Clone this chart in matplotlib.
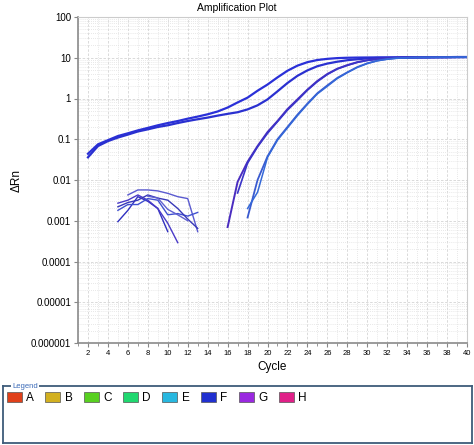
import matplotlib
matplotlib.use("Agg")
import matplotlib.pyplot as plt
from matplotlib.patches import Patch
from matplotlib.ticker import LogLocator, FixedLocator, MultipleLocator

plt.rcParams['font.family'] = ['Liberation Sans', 'DejaVu Sans']

# 扩增曲线数据
cyc_full = list(range(2, 41))
rn_f1 = [0.044, 0.075, 0.095, 0.12, 0.14, 0.165, 0.19, 0.22, 0.25, 0.28, 0.32, 0.36,
         0.41, 0.48, 0.6, 0.8, 1.05, 1.55, 2.2, 3.3, 4.8, 6.4, 7.8, 8.8, 9.4, 9.8, 10.0,
         10.1, 10.15, 10.2, 10.2, 10.25, 10.3, 10.3, 10.3, 10.35, 10.35, 10.4, 10.4]
rn_f2 = [0.036, 0.068, 0.09, 0.11, 0.13, 0.155, 0.175, 0.2, 0.22, 0.25, 0.28, 0.31,
         0.34, 0.38, 0.42, 0.46, 0.54, 0.68, 0.95, 1.5, 2.4, 3.6, 4.9, 6.2, 7.2, 8.0, 8.7,
         9.2, 9.6, 9.9, 10.0, 10.1, 10.2, 10.25, 10.3, 10.3, 10.35, 10.4, 10.4]

cyc_g1 = list(range(16, 41))
rn_g1 = [0.0007, 0.009, 0.028, 0.068, 0.15, 0.28, 0.55, 0.95, 1.65, 2.7, 4.0, 5.4, 6.6,
         7.8, 8.7, 9.3, 9.7, 9.95, 10.1, 10.2, 10.25, 10.3, 10.3, 10.35, 10.4]
cyc_g2 = list(range(17, 41))
rn_g2 = [0.0048, 0.026, 0.065, 0.14, 0.27, 0.52, 0.9, 1.6, 2.6, 3.9, 5.3, 6.5,
         7.7, 8.6, 9.2, 9.6, 9.9, 10.05, 10.15, 10.2, 10.3, 10.3, 10.35, 10.4]

cyc_e = list(range(18, 41))
rn_e1 = [0.0012, 0.01, 0.038, 0.1, 0.2, 0.4, 0.75, 1.35, 2.1, 3.2, 4.4, 5.9, 7.3,
         8.5, 9.3, 9.8, 10.05, 10.15, 10.2, 10.25, 10.3, 10.35, 10.4]
rn_e2 = [0.002, 0.005, 0.036, 0.095, 0.19, 0.38, 0.72, 1.3, 2.0, 3.1, 4.3, 5.8, 7.2,
         8.4, 9.2, 9.75, 10.0, 10.15, 10.2, 10.25, 10.3, 10.35, 10.4]

# 早期噪声曲线
noise = [
    (list(range(6, 14)), [0.0043, 0.0057, 0.0057, 0.0054, 0.0047, 0.0039, 0.0035, 0.00054]),
    (list(range(5, 11)), [0.00095, 0.0018, 0.0039, 0.0030, 0.0020, 0.00054]),
    (list(range(5, 12)), [0.0027, 0.0032, 0.0043, 0.0032, 0.0020, 0.00087, 0.00029]),
    (list(range(5, 14)), [0.0018, 0.0025, 0.0025, 0.0035, 0.0032, 0.0014, 0.0015, 0.0013, 0.0016]),
    (list(range(5, 14)), [0.0022, 0.0028, 0.0032, 0.0043, 0.0036, 0.0032, 0.0020, 0.0011, 0.00065]),
    (list(range(8, 13)), [0.0040, 0.0036, 0.0019, 0.0014, 0.0010]),
]
noise_colors = ['#5a5ad0', '#3030c0', '#4a3ac8', '#4050d0', '#3838b8', '#6060d0']

legend_labels = ['A', 'B', 'C', 'D', 'E', 'F', 'G', 'H']
legend_colors = ['#e0401a', '#d2b020', '#58d020', '#20d870', '#28b8e0', '#2030d0', '#9a28e0', '#e02088']

fig = plt.figure(figsize=(4.74, 4.45), dpi=100)
ax = fig.add_axes([78 / 474, 1 - 343 / 445, 389 / 474, 326 / 445])

for c, v, col in zip([n[0] for n in noise], [n[1] for n in noise], noise_colors):
    ax.plot(c, v, color=col, lw=1.0)

ax.plot(cyc_full, rn_f1, color='#2a30d8', lw=1.6)
ax.plot(cyc_full, rn_f2, color='#2a30d0', lw=1.6)
ax.plot(cyc_g1, rn_g1, color='#4a2cc0', lw=1.4)
ax.plot(cyc_g2, rn_g2, color='#3a34c8', lw=1.2)
ax.plot(cyc_e, rn_e1, color='#3a5ad0', lw=1.3)
ax.plot(cyc_e, rn_e2, color='#3468d8', lw=1.1)

ax.set_yscale('log')
ax.set_ylim(1e-6, 100)
ax.set_xlim(1, 40)
ax.yaxis.set_major_locator(LogLocator(base=10, numticks=20))
ax.yaxis.set_minor_locator(LogLocator(base=10, subs=range(2, 10), numticks=20))
ax.set_yticks([1e-6, 1e-5, 1e-4, 1e-3, 1e-2, 1e-1, 1, 10, 100])
ax.set_yticklabels(['0.000001', '0.00001', '0.0001', '0.001', '0.01', '0.1', '1', '10', '100'])
ax.xaxis.set_major_locator(FixedLocator(range(2, 41, 2)))
ax.xaxis.set_minor_locator(MultipleLocator(1))

ax.grid(which='major', color='#d4d4d4', ls=(0, (3, 2)), lw=0.6)
ax.grid(which='minor', color='#e0e0e0', ls=(0, (1, 1.5)), lw=0.6)
ax.set_axisbelow(True)

ax.tick_params(axis='y', which='major', labelsize=7, length=3, color='#888888', pad=2)
ax.tick_params(axis='y', which='minor', length=0)
ax.tick_params(axis='x', which='major', labelsize=5.5, length=3, color='#888888', pad=2)
ax.tick_params(axis='x', which='minor', length=2, color='#888888')
for s in ['left', 'bottom']:
    ax.spines[s].set_color('#8a8a8a')
    ax.spines[s].set_linewidth(1.2)
for s in ['top', 'right']:
    ax.spines[s].set_color('#cccccc')
    ax.spines[s].set_linewidth(0.8)

ax.set_xlabel('Cycle', fontsize=8.5, labelpad=3)
ax.set_ylabel('ΔRn', fontsize=8.5, labelpad=6)
fig.text(0.5, 1 - 8 / 445, 'Amplification Plot', ha='center', va='center', fontsize=7.5)

# 图例框
lax = fig.add_axes([3 / 474, 1 - 443 / 445, 469 / 474, 57 / 445])
lax.set_xticks([])
lax.set_yticks([])
for s in lax.spines.values():
    s.set_color('#3e5c7a')
    s.set_linewidth(1.3)
lax.text(0.019, 1.0, 'Legend', transform=lax.transAxes, fontsize=5.5, color='#3a6ab8',
         va='center', ha='left', bbox=dict(facecolor='white', edgecolor='none', pad=1))
handles = [Patch(facecolor=c, edgecolor='#555555', lw=0.5) for c in legend_colors]
lax.legend(handles, legend_labels, ncol=8, loc='upper left', bbox_to_anchor=(0.0, 0.96),
           frameon=False, fontsize=8.5, handlelength=1.3, handleheight=0.95,
           handletextpad=0.35, columnspacing=0.95, borderaxespad=0.1, borderpad=0.2)

fig.savefig('out.png', dpi=100)
